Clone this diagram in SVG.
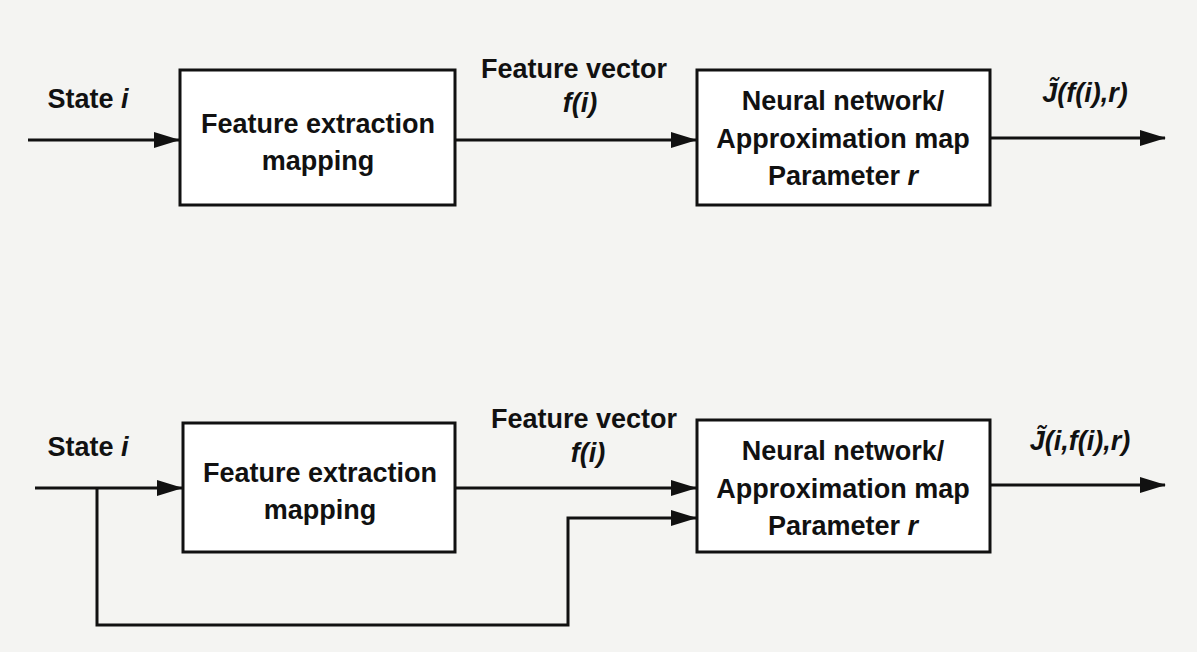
<svg xmlns="http://www.w3.org/2000/svg" width="1197" height="652" viewBox="0 0 1197 652">
<defs><marker id="ah" markerWidth="26" markerHeight="16" refX="25" refY="8" orient="auto" markerUnits="userSpaceOnUse"><path d="M0,0 L26,8 L0,16 z" fill="#111"/></marker></defs>
<style>
.b{fill:#fff;stroke:#111;stroke-width:3}
.c{fill:none;stroke:#111;stroke-width:3}
text{font-family:"Liberation Sans",Arial,sans-serif;font-size:27px;font-weight:bold;fill:#111;text-anchor:middle}
.i{font-style:italic}
</style>
<rect width="1197" height="652" fill="#f4f4f2"/>
<g id="connectors">
<line class="c" x1="28" y1="140" x2="179" y2="140" marker-end="url(#ah)"/>
<line class="c" x1="455" y1="140" x2="696" y2="140" marker-end="url(#ah)"/>
<line class="c" x1="990" y1="138" x2="1165" y2="138" marker-end="url(#ah)"/>
<line class="c" x1="35" y1="488" x2="182" y2="488" marker-end="url(#ah)"/>
<line class="c" x1="455" y1="488" x2="696" y2="488" marker-end="url(#ah)"/>
<polyline class="c" points="97,488 97,625 568,625 568,518 696,518" marker-end="url(#ah)"/>
<line class="c" x1="990" y1="485" x2="1165" y2="485" marker-end="url(#ah)"/>
</g>
<g id="labels">
<text x="88" y="108">State <tspan class="i">i</tspan></text>
<text x="574" y="78">Feature vector</text>
<text x="580" y="112" class="i">f(i)</text>
<text x="1085" y="102" class="i">J̃(f(i),r)</text>
<text x="88" y="456">State <tspan class="i">i</tspan></text>
<text x="584" y="428">Feature vector</text>
<text x="588" y="462" class="i">f(i)</text>
<text x="1080" y="450" class="i">J̃(i,f(i),r)</text>
</g>
<g id="fe1"><rect class="b" x="180" y="70" width="275" height="135"/><text x="318" y="133">Feature extraction</text><text x="318" y="170">mapping</text></g>
<g id="nn1"><rect class="b" x="697" y="70" width="293" height="135"/><text x="843" y="110">Neural network/</text><text x="843" y="148">Approximation map</text><text x="843" y="185">Parameter <tspan class="i">r</tspan></text></g>
<g id="fe2"><rect class="b" x="183" y="423" width="272" height="129"/><text x="320" y="482">Feature extraction</text><text x="320" y="519">mapping</text></g>
<g id="nn2"><rect class="b" x="697" y="420" width="293" height="132"/><text x="843" y="460">Neural network/</text><text x="843" y="498">Approximation map</text><text x="843" y="535">Parameter <tspan class="i">r</tspan></text></g>
</svg>
